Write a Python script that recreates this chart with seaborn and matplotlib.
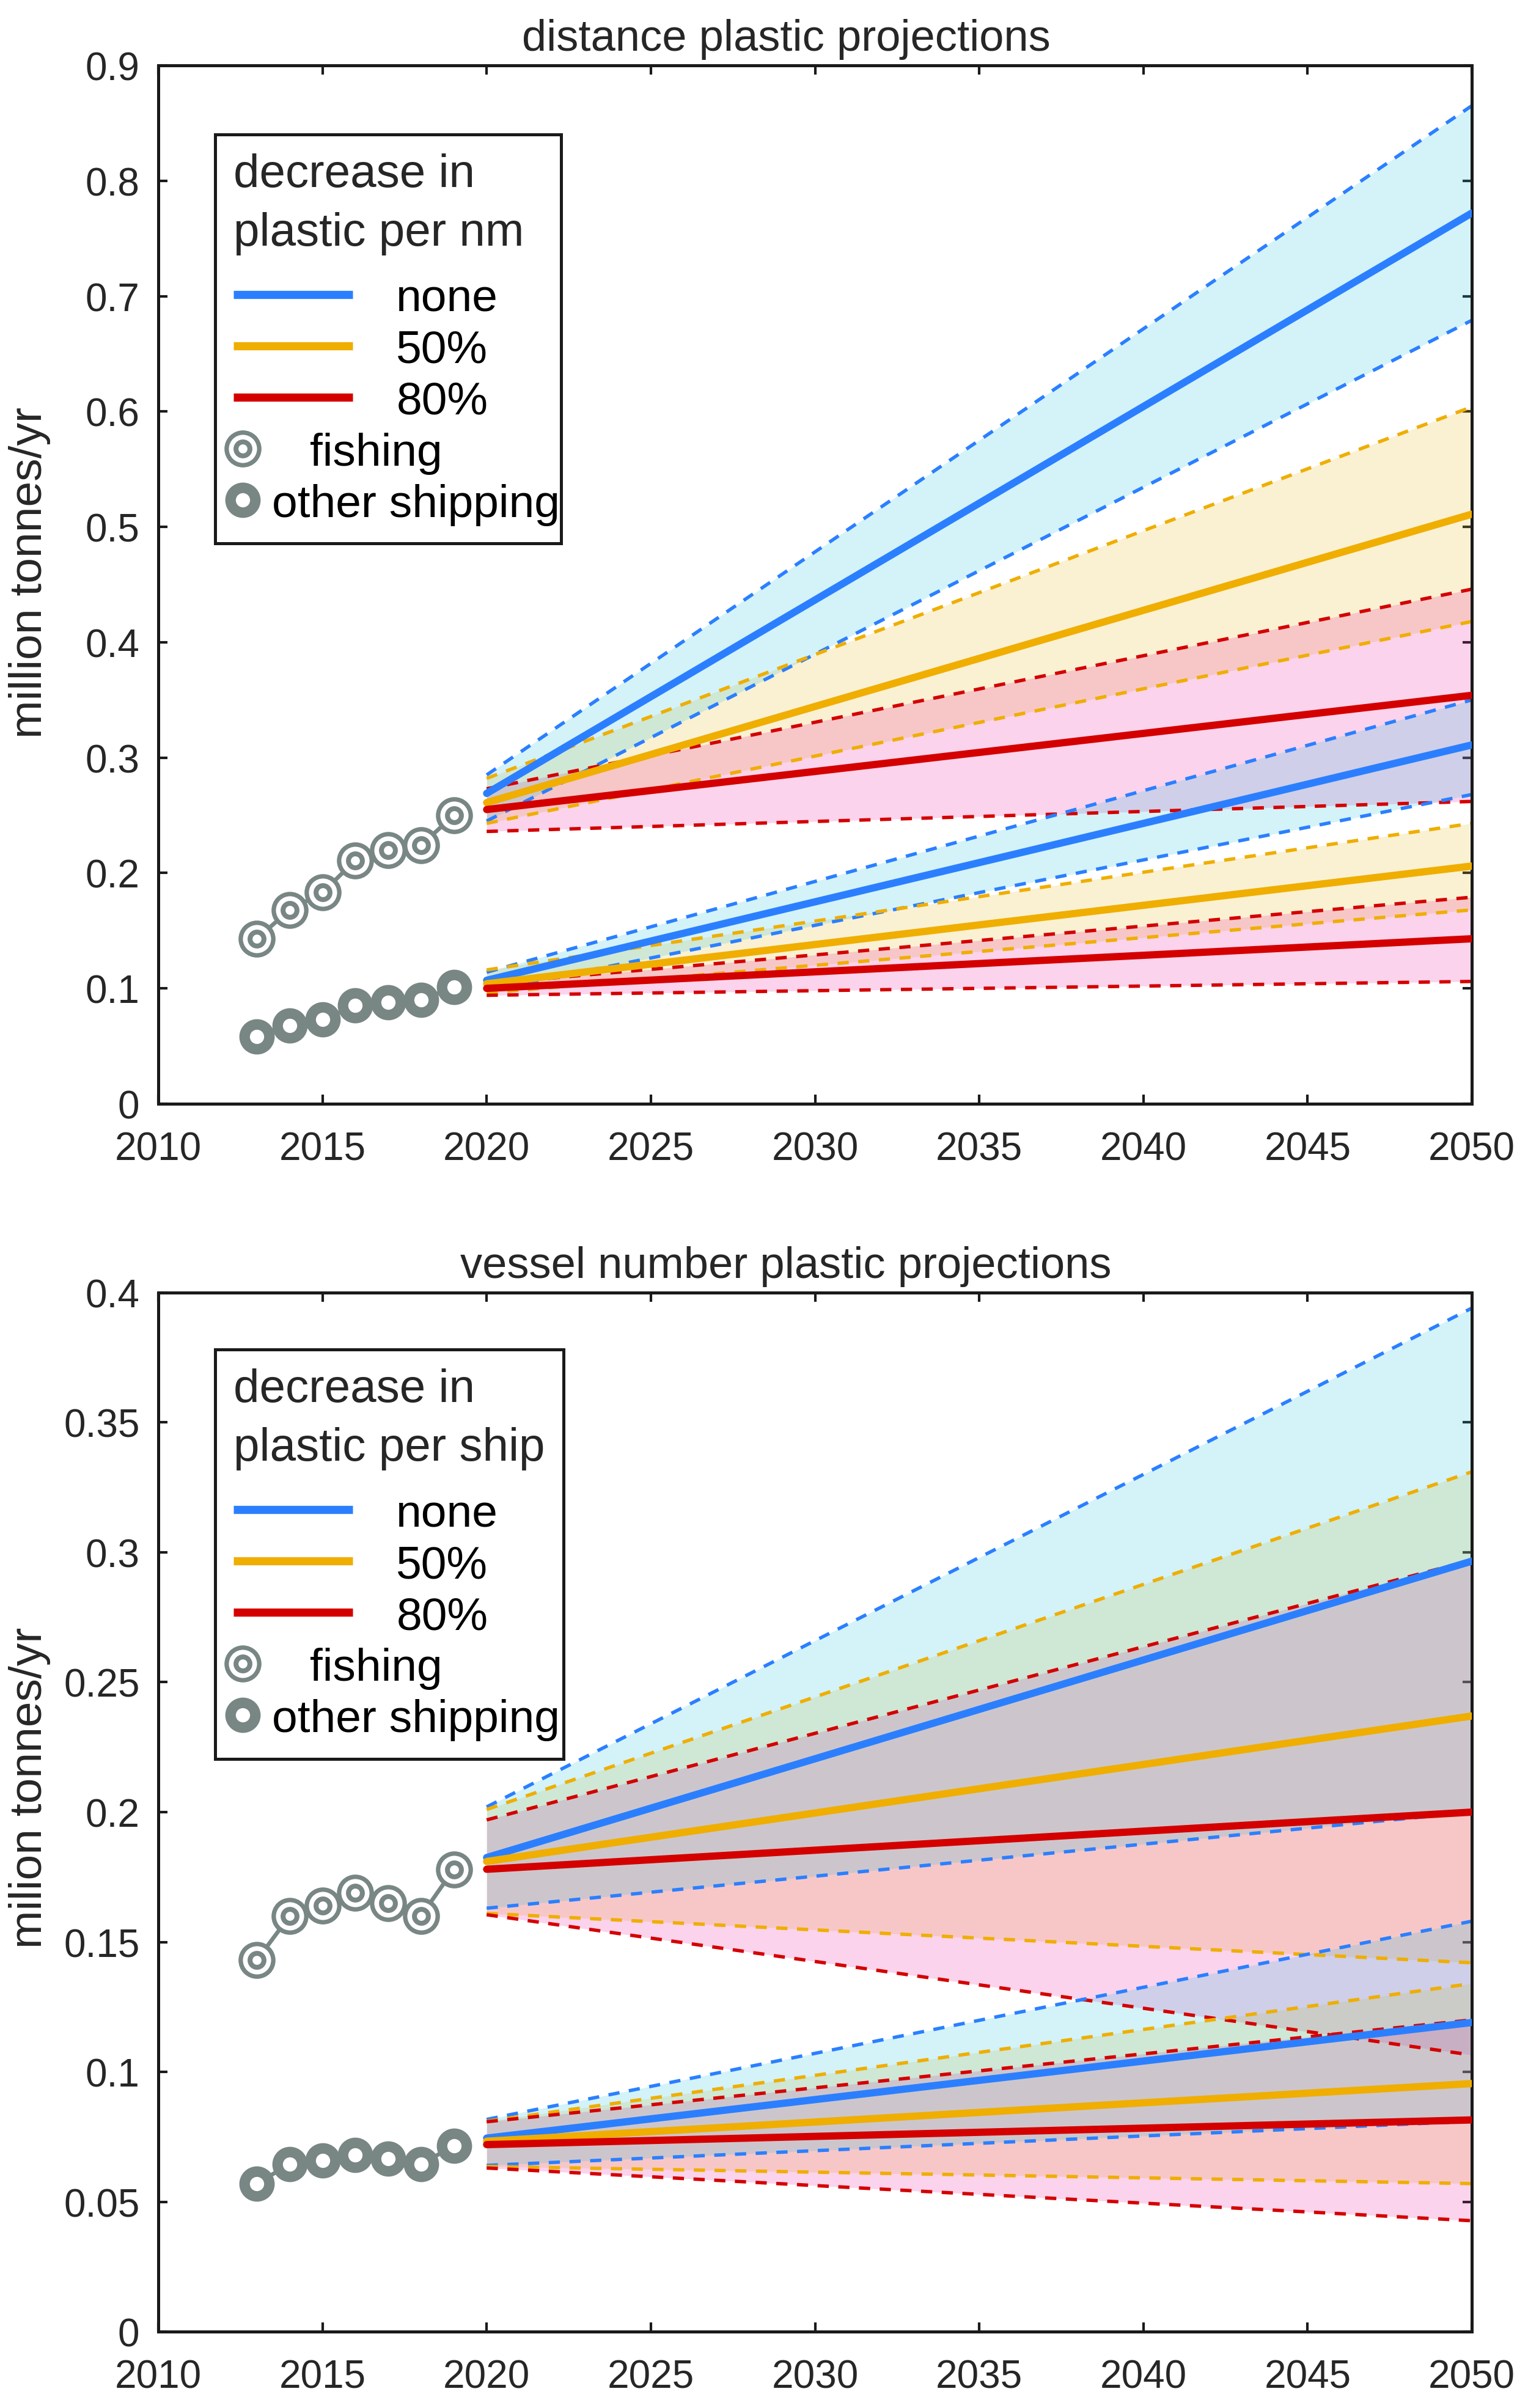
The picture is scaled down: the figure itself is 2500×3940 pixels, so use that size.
import seaborn as sns
import matplotlib.pyplot as plt
from matplotlib.lines import Line2D
from matplotlib.text import Text
from matplotlib.legend_handler import HandlerBase
from matplotlib.ticker import FuncFormatter, MultipleLocator

years_hist = [2013, 2014, 2015, 2016, 2017, 2018, 2019]
proj_years = [2020, 2050]
scenarios = ['none', '50%', '80%']

# distance based estimates (rows follow scenarios, columns follow proj_years)
dist_fishing_hist = [0.143, 0.168, 0.183, 0.211, 0.220, 0.224, 0.250]
dist_other_hist = [0.058, 0.068, 0.073, 0.085, 0.088, 0.090, 0.101]
dist_fishing_mid = [[0.269, 0.772], [0.261, 0.511], [0.255, 0.354]]
dist_fishing_hi = [[0.285, 0.865], [0.282, 0.604], [0.273, 0.446]]
dist_fishing_lo = [[0.245, 0.679], [0.243, 0.418], [0.236, 0.262]]
dist_other_mid = [[0.107, 0.311], [0.104, 0.206], [0.100, 0.143]]
dist_other_hi = [[0.114, 0.350], [0.116, 0.243], [0.104, 0.179]]
dist_other_lo = [[0.098, 0.268], [0.096, 0.168], [0.094, 0.106]]

# vessel number based estimates
ves_fishing_hist = [0.143, 0.160, 0.164, 0.169, 0.165, 0.160, 0.178]
ves_other_hist = [0.057, 0.0645, 0.066, 0.068, 0.0665, 0.0645, 0.0715]
ves_fishing_mid = [[0.1825, 0.2966], [0.181, 0.237], [0.178, 0.200]]
ves_fishing_hi = [[0.202, 0.394], [0.201, 0.331], [0.197, 0.297]]
ves_fishing_lo = [[0.163, 0.200], [0.161, 0.142], [0.1605, 0.1065]]
ves_other_mid = [[0.0745, 0.119], [0.0733, 0.0955], [0.072, 0.0815]]
ves_other_hi = [[0.0817, 0.158], [0.081, 0.134], [0.0808, 0.120]]
ves_other_lo = [[0.064, 0.081], [0.0636, 0.057], [0.063, 0.0427]]

line_colors = ['#2b7fff', '#efae00', '#d40000']
fill_colors = ['#23c3e1', '#e6b923', '#eb23a0']
fill_order = [1, 2, 0]  # yellow, pink, then cyan on top
gray = '#788684'

sns.set_theme(style='ticks')
plt.rcParams['font.family'] = ['Liberation Sans', 'DejaVu Sans']


class LegendRow(HandlerBase):
    # draws the sample and its text itself, so every row can have its own text offset
    def __init__(self, kind, text, text_x, color=None):
        super().__init__()
        self.kind, self.text, self.text_x, self.color = kind, text, text_x, color

    def create_artists(self, legend, orig_handle, xdescent, ydescent, width, height, fontsize, trans):
        y = (height - ydescent) / 2
        arts = []
        if self.kind == 'line':
            arts.append(Line2D([0, 2.6 * fontsize], [y, y], color=self.color, lw=4.8, solid_capstyle='butt'))
        else:
            x0 = 0.2 * fontsize
            if self.kind == 'fishing':
                arts.append(Line2D([x0], [y], ls='none', marker='o', ms=19.2, mfc='white', mec=gray, mew=2.6))
                arts.append(Line2D([x0], [y], ls='none', marker='o', ms=8.2, mfc='white', mec=gray, mew=2.9))
            else:
                arts.append(Line2D([x0], [y], ls='none', marker='o', ms=14.6, mfc='white', mec=gray, mew=6.2))
        arts.append(Text(self.text_x * fontsize, y, self.text, fontsize=fontsize,
                         va='center_baseline', ha='left', color='black'))
        for a in arts:
            a.set_transform(trans)
        return arts


def draw_panel(ax, fishing_hist, other_hist, groups, ymax, ystep, title, ylabel, legend_title, label_y, legend_y):
    for mid, lo, hi in groups:
        for i in fill_order:
            ax.fill_between(proj_years, lo[i], hi[i], color=fill_colors[i], alpha=0.2, lw=0, zorder=1)
        for i in range(3):
            for bound in (lo[i], hi[i]):
                sns.lineplot(x=proj_years, y=bound, color=line_colors[i], lw=2.0, ax=ax, zorder=2)
                ax.lines[-1].set_dashes((3.3, 2.8))
        for i in range(3):
            sns.lineplot(x=proj_years, y=mid[i], color=line_colors[i], lw=4.3, ax=ax, zorder=3)

    sns.lineplot(x=years_hist, y=fishing_hist, color=gray, lw=2.4, marker='o', markersize=19.2,
                 markerfacecolor='white', markeredgecolor=gray, markeredgewidth=2.6, ax=ax, zorder=4)
    ax.plot(years_hist, fishing_hist, ls='none', marker='o', ms=8.2, mfc='white', mec=gray, mew=2.9, zorder=5)
    sns.lineplot(x=years_hist, y=other_hist, color=gray, lw=2.4, marker='o', markersize=14.6,
                 markerfacecolor='white', markeredgecolor=gray, markeredgewidth=6.2, ax=ax, zorder=4)

    ax.set_xlim(2010, 2050)
    ax.set_ylim(0, ymax)
    ax.xaxis.set_major_locator(MultipleLocator(5))
    ax.yaxis.set_major_locator(MultipleLocator(ystep))
    ax.yaxis.set_major_formatter(FuncFormatter(lambda v, p: f'{v:g}'))
    ax.tick_params(axis='both', direction='in', top=True, right=True, length=5.5, width=1.5,
                   labelsize=23, color='#1a1a1a')
    ax.tick_params(axis='x', pad=16)
    ax.tick_params(axis='y', pad=11)
    for s in ax.spines.values():
        s.set_visible(True)
        s.set_linewidth(1.8)
        s.set_color('#1a1a1a')

    ax.set_title(title, fontsize=26, x=0.478, pad=9)
    ax.set_xlabel('')
    ax.set_ylabel(ylabel, fontsize=27)
    ax.yaxis.set_label_coords(-0.082, label_y)

    handles = [Line2D([], []) for _ in range(5)]
    rows = [LegendRow('line', scenarios[0], 3.55, line_colors[0]),
            LegendRow('line', scenarios[1], 3.55, line_colors[1]),
            LegendRow('line', scenarios[2], 3.55, line_colors[2]),
            LegendRow('fishing', 'fishing', 1.67),
            LegendRow('other', 'other shipping', 0.84)]
    leg = ax.legend(handles, [''] * 5, handler_map=dict(zip(handles, rows)), title=legend_title,
                    title_fontsize=27.5, fontsize=27, loc='upper left', bbox_to_anchor=(0.0433, legend_y),
                    borderaxespad=0, handlelength=6.75, handletextpad=0, labelspacing=0.2,
                    alignment='left', frameon=True, fancybox=False, framealpha=1, edgecolor='#1a1a1a')
    leg.get_frame().set_linewidth(1.8)
    leg.get_title().set_linespacing(1.45)
    leg._legend_box.sep = 13.5


fig = plt.figure(figsize=(12.5, 19.705), dpi=200)
ax_top = fig.add_axes([0.1036, 0.5415, 0.8596, 0.4311])
ax_bot = fig.add_axes([0.1036, 0.0317, 0.8596, 0.4314])

draw_panel(ax_top, dist_fishing_hist, dist_other_hist,
           [(dist_fishing_mid, dist_fishing_lo, dist_fishing_hi), (dist_other_mid, dist_other_lo, dist_other_hi)],
           0.9, 0.1, 'distance plastic projections', 'million tonnes/yr',
           'decrease in\nplastic per nm', 0.512, 0.9335)
draw_panel(ax_bot, ves_fishing_hist, ves_other_hist,
           [(ves_fishing_mid, ves_fishing_lo, ves_fishing_hi), (ves_other_mid, ves_other_lo, ves_other_hi)],
           0.4, 0.05, 'vessel number plastic projections', 'milion tonnes/yr',
           'decrease in\nplastic per ship', 0.524, 0.945)

fig.savefig('out.png', dpi=200)
